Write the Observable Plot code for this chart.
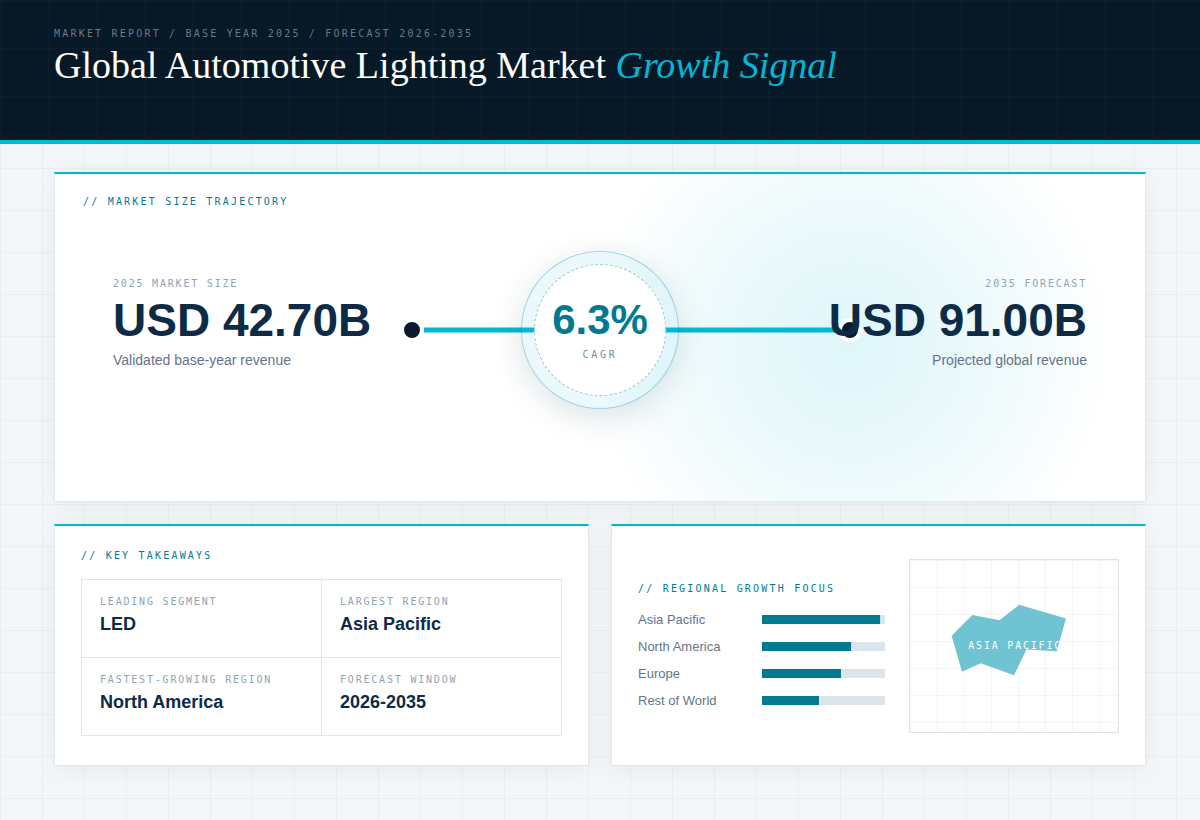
<!DOCTYPE html>
<html><head><meta charset="utf-8">
<script src="https://cdn.jsdelivr.net/npm/d3@7"></script>
<script src="https://cdn.jsdelivr.net/npm/@observablehq/plot@0.6"></script>
<style>
*{box-sizing:border-box}
html,body{margin:0;padding:0;width:1200px;height:820px;overflow:hidden}
body{position:relative;font-family:"Liberation Sans",Arial,sans-serif;background-color:#f4f7f9;
background-image:linear-gradient(rgba(7,24,38,.035) 1px,transparent 1px),linear-gradient(90deg,rgba(7,24,38,.035) 1px,transparent 1px);background-size:42px 42px}
.abs{position:absolute;white-space:nowrap}
.mono{font-family:"DejaVu Sans Mono",monospace}
header{position:absolute;left:0;top:0;width:1200px;height:144px;border-bottom:4px solid #00b8d4;background-color:#071826;
background-image:linear-gradient(rgba(255,255,255,.025) 1px,transparent 1px),linear-gradient(90deg,rgba(255,255,255,.025) 1px,transparent 1px);background-size:48px 48px}
#eyebrow{left:54px;top:28px;font-size:10px;letter-spacing:2.2px;color:#6b7983;line-height:12px}
#title{left:54px;top:43px;font-family:"Liberation Serif",serif;font-size:38px;line-height:44px;color:#fff;font-weight:400}
#title em{color:#00b8d4;font-style:italic}
.card{position:absolute;background:#fff;border:1px solid #e1e6e9;border-top:2px solid #00b8d4;box-shadow:0 4px 24px rgba(7,24,38,.06)}
#hero{left:54px;top:172px;width:1092px;height:330px;overflow:hidden}
#glow{position:absolute;inset:0;background:radial-gradient(circle 265px at 795px 171px,rgba(0,184,212,.13) 0%,rgba(0,184,212,.075) 50%,rgba(0,184,212,0) 100%)}
#left-card{left:54px;top:524px;width:535px;height:242px}
#right-card{left:611px;top:524px;width:535px;height:242px}
.sec{font-size:10px;letter-spacing:2.2px;color:#007a91;line-height:12px}
.lab{font-size:10px;letter-spacing:1.8px;color:#8fa3b3;line-height:12px}
.big{font-size:46px;font-weight:700;color:#0d2b45;line-height:56px}
.cap{font-size:14px;color:#64748b;line-height:18px}
#ring{left:521px;top:251px;width:158px;height:158px;border-radius:50%;background:rgba(0,184,212,.08);border:1px solid rgba(0,122,145,.3);box-shadow:0 8px 32px rgba(0,60,80,.14)}
#inner{left:534px;top:264px;width:132px;height:132px;border-radius:50%;background:#fff;border:1px dashed rgba(0,122,145,.4)}
#cagr{left:500px;top:296px;width:200px;text-align:center;font-size:42px;font-weight:700;line-height:48px;color:#007a91}
#cagrl{left:500px;top:349px;width:200px;text-align:center;font-size:10px;letter-spacing:2.7px;color:#7b8a97;line-height:12px}
#grid{left:81px;top:579px;width:481px;height:157px;border:1px solid #e1e6e9}
#grid i{position:absolute;background:#e1e6e9}
.val{font-size:18px;font-weight:700;color:#0d2b45;line-height:22px}
#mapbox{left:909px;top:559px;width:210px;height:174px;border:1px solid #dde4e8;background-color:#fff;
background-image:linear-gradient(rgba(7,24,38,.04) 1px,transparent 1px),linear-gradient(90deg,rgba(7,24,38,.04) 1px,transparent 1px);background-size:27px 27px}
svg{position:absolute;overflow:visible}
.mapplot text{letter-spacing:1.8px}
</style></head><body>
<script>
// ---- data ----
const eyebrowText = "MARKET REPORT / BASE YEAR 2025 / FORECAST 2026-2035";
const titleMain = "Global Automotive Lighting Market ";
const titleAccent = "Growth Signal";
const trajectoryYears = [2025, 2035];
const trajectoryValues = ["USD 42.70B", "USD 91.00B"];
const trajectoryLabels = ["2025 MARKET SIZE", "2035 FORECAST"];
const trajectoryCaptions = ["Validated base-year revenue", "Projected global revenue"];
const cagrText = "6.3%";
const takeawayLabels = ["LEADING SEGMENT", "LARGEST REGION", "FASTEST-GROWING REGION", "FORECAST WINDOW"];
const takeawayValues = ["LED", "Asia Pacific", "North America", "2026-2035"];
const regions = ["Asia Pacific", "North America", "Europe", "Rest of World"];
const regionShares = [96, 72.4, 64.2, 46.3];
const mapX = [30, 43, 52.5, 75, 70.5, 56, 50, 34, 25, 20];
const mapY = [32, 35, 26, 34, 53, 52, 67, 60, 65, 44];
const mapLabel = "ASIA PACIFIC";

// ---- colours ----
const CYAN = "#00b8d4", TEAL = "#007a91", DARK = "#0a1a28", TRACK = "#dce5eb", SLATE = "#64748b", LAND = "#6fc3d2";

function el(cls, id, left, top, html, extra) {
  const d = document.createElement("div");
  d.className = "abs " + (cls || "");
  if (id) d.id = id;
  if (left != null) d.style.left = left + "px";
  if (top != null) d.style.top = top + "px";
  d.innerHTML = html || "";
  if (extra) Object.assign(d.style, extra);
  document.body.appendChild(d);
  return d;
}
function place(svg, left, top) { svg.style.left = left + "px"; svg.style.top = top + "px"; svg.style.background = "transparent"; document.body.appendChild(svg); }

// header
const header = document.createElement("header"); document.body.appendChild(header);
el("mono", "eyebrow", null, null, eyebrowText);
el("", "title", null, null, titleMain + "<em>" + titleAccent + "</em>");

// cards
const hero = document.createElement("div"); hero.className = "card"; hero.id = "hero"; hero.innerHTML = '<div id="glow"></div>'; document.body.appendChild(hero);
["left-card","right-card"].forEach(id => { const c = document.createElement("div"); c.className = "card"; c.id = id; document.body.appendChild(c); });
el("mono sec", null, 83, 196, "// MARKET SIZE TRAJECTORY");
el("mono sec", null, 81, 550, "// KEY TAKEAWAYS");
el("mono sec", null, 638, 583, "// REGIONAL GROWTH FOCUS");

// trajectory line and end points, scaled by year
const traj = trajectoryYears.map(year => ({year}));
place(Plot.plot({
  width: 470, height: 40, margin: 0,
  x: {domain: [2025, 2035], range: [11.5, 449.5], axis: null},
  y: {domain: [0, 1], range: [39.5, -0.5], axis: null},
  marks: [
    Plot.line(traj, {x: "year", y: () => 0.5, stroke: CYAN, strokeWidth: 5, strokeLinecap: "butt"}),
    Plot.dot(traj, {x: "year", y: () => 0.5, r: 10, fill: DARK, stroke: "#fff", strokeWidth: 4})
  ]
}), 400, 310);

// KPI text
el("mono lab", null, 113, 278, trajectoryLabels[0]);
el("big", null, 113, 292, trajectoryValues[0]);
el("cap", null, 113, 351, trajectoryCaptions[0]);
el("mono lab", null, null, 278, trajectoryLabels[1], {right: "113px"});
el("big", null, null, 292, trajectoryValues[1], {right: "113px"});
el("cap", null, null, 351, trajectoryCaptions[1], {right: "113px"});

// CAGR ring
el("", "ring"); el("", "inner");
el("", "cagr", null, null, cagrText);
el("mono", "cagrl", null, null, "CAGR");

// takeaways grid
el("", "grid", null, null, '<i style="left:239px;top:0;width:1px;height:155px"></i><i style="left:0;top:77px;width:479px;height:1px"></i>');
const cellX = [100, 340], cellY = [596, 674];
takeawayLabels.forEach((t, i) => {
  const cx = cellX[i % 2], cy = cellY[i >> 1];
  el("mono lab", null, cx, cy, t);
  el("val", null, cx, cy + 17, takeawayValues[i]);
});

// regional bars
const regionRows = regions.map((region, i) => ({region, share: regionShares[i]}));
place(Plot.plot({
  width: 247, height: 90, marginLeft: 124, marginRight: 0, marginTop: 0, marginBottom: 0,
  x: {domain: [0, 100], axis: null},
  y: {domain: regions, paddingInner: 2 / 3, paddingOuter: 0, axis: null},
  marks: [
    Plot.barX(regionRows, {x1: () => 0, x2: () => 100, y: "region", fill: TRACK}),
    Plot.barX(regionRows, {x: "share", y: "region", fill: TEAL}),
    Plot.text(regionRows, {x: () => 0, y: "region", text: "region", dx: -124.5, textAnchor: "start", fontSize: 13, fill: SLATE, fontFamily: "Liberation Sans"})
  ]
}), 638, 615);

// map
el("", "mapbox");
const mapRows = mapX.concat(mapX[0]).map((x, i) => ({x, y: mapY.concat(mapY[0])[i]}));
place(Plot.plot({
  className: "mapplot",
  width: 208, height: 172, margin: 0,
  x: {domain: [0, 100], range: [-0.5, 207.5], axis: null},
  y: {domain: [0, 100], range: [-0.5, 171.5], axis: null},
  marks: [
    Plot.line(mapRows, {x: "x", y: "y", fill: LAND, stroke: "none", curve: "linear"}),
    Plot.text([mapLabel], {x: () => 28, y: () => 50, text: d => d, textAnchor: "start", fill: "#fff", fontSize: 10, fontFamily: "DejaVu Sans Mono"})
  ]
}), 910, 560);
</script>
</body></html>
